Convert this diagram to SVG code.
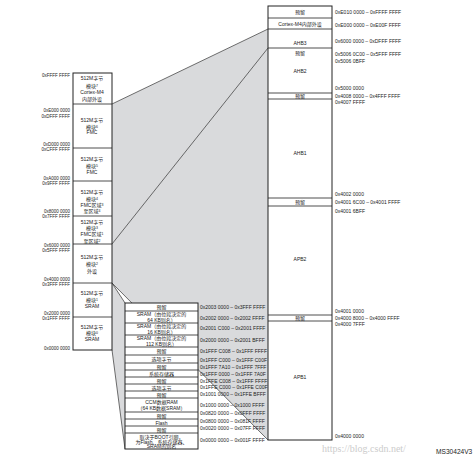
<svg xmlns="http://www.w3.org/2000/svg" width="474" height="460" viewBox="0 0 474 460">
<style>
text{font-family:"Liberation Sans","Noto Sans CJK SC",sans-serif;font-size:5px;fill:#222}
.c{text-anchor:middle}
.e{text-anchor:end;font-size:4.5px}
.box{fill:#fff;stroke:#222;stroke-width:1}
.div{stroke:#222;stroke-width:0.8}
.ln{stroke:#333;stroke-width:0.7;fill:none}
.wm{font-family:"Liberation Serif",serif;font-size:10px;fill:#ccc}
</style>
<rect width="474" height="460" fill="#fff"/>
<g id="connectors">
<polygon points="112,104 268,29 268,440 112,283" fill="#d9dadc"/>
<polygon points="112,283 125,303 125,449 112,350" fill="#d9dadc"/>
<line class="ln" x1="112" y1="104" x2="268" y2="29"/>
<line class="ln" x1="268" y1="48" x2="112" y2="244"/>
<line class="ln" x1="112" y1="283" x2="268" y2="440"/>
<line class="ln" x1="112" y1="283" x2="125" y2="303"/>
<line class="ln" x1="112" y1="350" x2="125" y2="449"/>
</g>
<g id="left-column">
<rect class="box" x="73" y="73" width="39" height="277"/>
<line class="div" x1="73" y1="104" x2="112" y2="104"/>
<line class="div" x1="73" y1="148" x2="112" y2="148"/>
<line class="div" x1="73" y1="181" x2="112" y2="181"/>
<line class="div" x1="73" y1="216" x2="112" y2="216"/>
<line class="div" x1="73" y1="244" x2="112" y2="244"/>
<line class="div" x1="73" y1="283" x2="112" y2="283"/>
<line class="div" x1="73" y1="317" x2="112" y2="317"/>
<g id="blk7"><text class="c" x="92" y="80">512M字节</text><text class="c" x="92" y="88">模块<tspan font-size="3.5" dy="-1.5">7</tspan></text><text class="c" x="92" y="94">Cortex-M4</text><text class="c" x="92" y="101">内部外设</text></g>
<g id="blk6"><text class="c" x="92" y="122">512M字节</text><text class="c" x="92" y="129">模块<tspan font-size="3.5" dy="-1.5">6</tspan></text><text class="c" x="92" y="134">FMC</text></g>
<g id="blk5"><text class="c" x="92" y="161">512M字节</text><text class="c" x="92" y="168">模块<tspan font-size="3.5" dy="-1.5">5</tspan></text><text class="c" x="92" y="174">FMC</text></g>
<g id="blk4"><text class="c" x="92" y="194">512M字节</text><text class="c" x="92" y="201">模块<tspan font-size="3.5" dy="-1.5">4</tspan></text><text class="c" x="92" y="207">FMC区域<tspan font-size="3.5" dy="-1.5">3</tspan></text><text class="c" x="92" y="213">至区域<tspan font-size="3.5" dy="-1.5">4</tspan></text></g>
<g id="blk3"><text class="c" x="92" y="224">512M字节</text><text class="c" x="92" y="230">模块<tspan font-size="3.5" dy="-1.5">3</tspan></text><text class="c" x="92" y="236">FMC区域<tspan font-size="3.5" dy="-1.5">1</tspan></text><text class="c" x="92" y="243">至区域<tspan font-size="3.5" dy="-1.5">2</tspan></text></g>
<g id="blk2"><text class="c" x="92" y="259">512M字节</text><text class="c" x="92" y="266">模块<tspan font-size="3.5" dy="-1.5">2</tspan></text><text class="c" x="92" y="273">外设</text></g>
<g id="blk1"><text class="c" x="92" y="295">512M字节</text><text class="c" x="92" y="302">模块<tspan font-size="3.5" dy="-1.5">1</tspan></text><text class="c" x="92" y="308">SRAM</text></g>
<g id="blk0"><text class="c" x="92" y="329">512M字节</text><text class="c" x="92" y="335">模块<tspan font-size="3.5" dy="-1.5">0</tspan></text><text class="c" x="92" y="341">SRAM</text></g>
</g>
<g id="left-labels">
<text class="e" x="70" y="77">0xFFFF FFFF</text>
<text class="e" x="70" y="112">0xE000 0000</text>
<text class="e" x="70" y="118">0xDFFF FFFF</text>
<text class="e" x="70" y="146">0xD000 0000</text>
<text class="e" x="70" y="151">0xCFFF FFFF</text>
<text class="e" x="70" y="180">0xA000 0000</text>
<text class="e" x="70" y="185">0x9FFF FFFF</text>
<text class="e" x="70" y="213">0x8000 0000</text>
<text class="e" x="70" y="218">0x7FFF FFFF</text>
<text class="e" x="70" y="247">0x6000 0000</text>
<text class="e" x="70" y="252">0x5FFF FFFF</text>
<text class="e" x="70" y="281">0x4000 0000</text>
<text class="e" x="70" y="286">0x3FFF FFFF</text>
<text class="e" x="70" y="315">0x2000 0000</text>
<text class="e" x="70" y="320">0x1FFF FFFF</text>
<text class="e" x="70" y="350">0x0000 0000</text>
</g>
<g id="right-column">
<rect class="box" x="268" y="6" width="64" height="434"/>
<line class="div" x1="268" y1="18" x2="332" y2="18"/>
<line class="div" x1="268" y1="29" x2="332" y2="29"/>
<line class="div" x1="268" y1="48" x2="332" y2="48"/>
<line class="div" x1="268" y1="93" x2="332" y2="93"/>
<line class="div" x1="268" y1="99" x2="332" y2="99"/>
<line class="div" x1="268" y1="198" x2="332" y2="198"/>
<line class="div" x1="268" y1="206" x2="332" y2="206"/>
<line class="div" x1="268" y1="315" x2="332" y2="315"/>
<line class="div" x1="268" y1="321" x2="332" y2="321"/>
<text class="c" x="300" y="14">预留</text>
<text class="c" x="300" y="26">Cortex-M4内部外设</text>
<text class="c" x="300" y="45">AHB3</text>
<text class="c" x="300" y="55">预留</text>
<text class="c" x="300" y="73">AHB2</text>
<text class="c" x="300" y="98">预留</text>
<text class="c" x="300" y="155">AHB1</text>
<text class="c" x="300" y="203.5">预留</text>
<text class="c" x="300" y="261">APB2</text>
<text class="c" x="300" y="320">预留</text>
<text class="c" x="300" y="379">APB1</text>
</g>
<g id="right-labels">
<text x="335" y="14">0xE010 0000 – 0xFFFF FFFF</text>
<text x="335" y="27">0xE000 0000 – 0xE00F FFFF</text>
<text x="335" y="43">0x6000 0000 – 0xDFFF FFFF</text>
<text x="335" y="56">0x5006 0C00 – 0x5FFF FFFF</text>
<text x="335" y="63">0x5006 0BFF</text>
<text x="335" y="90">0x5000 0000</text>
<text x="335" y="98">0x4008 0000 – 0x4FFF FFFF</text>
<text x="335" y="104">0x4007 FFFF</text>
<text x="335" y="196">0x4002 0000</text>
<text x="335" y="204">0x4001 6C00 – 0x4001 FFFF</text>
<text x="335" y="213">0x4001 6BFF</text>
<text x="335" y="313">0x4001 0000</text>
<text x="335" y="320">0x4000 8000 – 0x4000 FFFF</text>
<text x="335" y="326">0x4000 7FFF</text>
<text x="335" y="438">0x4000 0000</text>
</g>
<g id="detail-box">
<rect class="box" x="125" y="303" width="73" height="146"/>
<line class="div" x1="125" y1="311" x2="198" y2="311"/>
<line class="div" x1="125" y1="323" x2="198" y2="323"/>
<line class="div" x1="125" y1="335" x2="198" y2="335"/>
<line class="div" x1="125" y1="347" x2="198" y2="347"/>
<line class="div" x1="125" y1="355" x2="198" y2="355"/>
<line class="div" x1="125" y1="363" x2="198" y2="363"/>
<line class="div" x1="125" y1="370" x2="198" y2="370"/>
<line class="div" x1="125" y1="377" x2="198" y2="377"/>
<line class="div" x1="125" y1="384" x2="198" y2="384"/>
<line class="div" x1="125" y1="391" x2="198" y2="391"/>
<line class="div" x1="125" y1="398" x2="198" y2="398"/>
<line class="div" x1="125" y1="412" x2="198" y2="412"/>
<line class="div" x1="125" y1="419" x2="198" y2="419"/>
<line class="div" x1="125" y1="426" x2="198" y2="426"/>
<line class="div" x1="125" y1="433" x2="198" y2="433"/>
<text class="c" x="161.5" y="309">预留</text>
<text class="c" x="161.5" y="316">SRAM（由位段决定的</text>
<text class="c" x="161.5" y="321.5">64 KB别名）</text>
<text class="c" x="161.5" y="328">SRAM（由位段决定的</text>
<text class="c" x="161.5" y="333.5">16 KB别名）</text>
<text class="c" x="161.5" y="340">SRAM（由位段决定的</text>
<text class="c" x="161.5" y="345.5">112 KB别名）</text>
<text class="c" x="161.5" y="353">预留</text>
<text class="c" x="161.5" y="361">选项字节</text>
<text class="c" x="161.5" y="368.5">预留</text>
<text class="c" x="161.5" y="375.5">系统存储器</text>
<text class="c" x="161.5" y="382.5">预留</text>
<text class="c" x="161.5" y="389.5">选项字节</text>
<text class="c" x="161.5" y="396.5">预留</text>
<text class="c" x="161.5" y="404">CCM数据RAM</text>
<text class="c" x="161.5" y="410">（64 KB数据SRAM）</text>
<text class="c" x="161.5" y="417.5">预留</text>
<text class="c" x="161.5" y="424.5">Flash</text>
<text class="c" x="161.5" y="431.5">预留</text>
<text class="c" x="161.5" y="438.5">取决于BOOT引脚，</text>
<text class="c" x="161.5" y="443.5">为Flash、系统存储器、</text>
<text class="c" x="161.5" y="448.3">SRAM的别名</text>
</g>
<g id="detail-labels">
<text x="200" y="309">0x2003 0000 – 0x3FFF FFFF</text>
<text x="200" y="320">0x2002 0000 – 0x2002 FFFF</text>
<text x="200" y="330">0x2001 C000 – 0x2001 FFFF</text>
<text x="200" y="342">0x2000 0000 – 0x2001 BFFF</text>
<text x="200" y="353">0x1FFF C008 – 0x1FFF FFFF</text>
<text x="200" y="362">0x1FFF C000 – 0x1FFF C00F</text>
<text x="200" y="369">0x1FFF 7A10 – 0x1FFF 7FFF</text>
<text x="200" y="376">0x1FFF 0000 – 0x1FFF 7A0F</text>
<text x="200" y="383">0x1FFE C008 – 0x1FFF FFFF</text>
<text x="200" y="389">0x1FFE C000 – 0x1FFE C00F</text>
<text x="200" y="396">0x1001 0000 – 0x1FFE BFFF</text>
<text x="200" y="407">0x1000 0000 – 0x1000 FFFF</text>
<text x="200" y="415">0x0820 0000 – 0x0FFF FFFF</text>
<text x="200" y="423">0x0800 0000 – 0x081F FFFF</text>
<text x="200" y="430">0x0020 0000 – 0x07FF FFFF</text>
<text x="200" y="442">0x0000 0000 – 0x001F FFFF</text>
</g>
<text class="wm" x="322" y="452">https://blog.csdn.net/</text>
<text x="436" y="454" style="font-size:6.6px">MS30424V3</text>
</svg>
